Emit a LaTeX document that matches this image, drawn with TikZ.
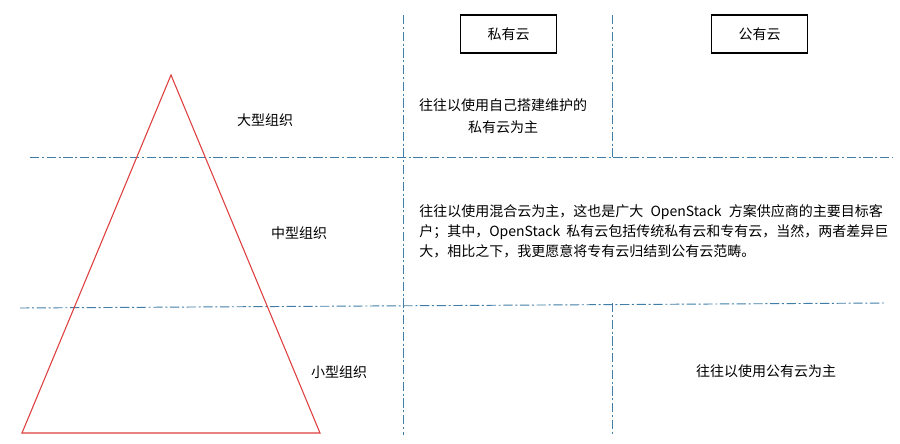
\documentclass[tikz,border=0pt]{standalone}
\usepackage{fontspec}
\usepackage{xcolor}
\usepackage{tikz}
\usetikzlibrary{positioning}
\newfontfamily\cjk{Noto Sans CJK SC}
\definecolor{fenge}{RGB}{64,126,168}
\definecolor{sanjiao}{RGB}{222,62,62}
\tikzset{
  fenxian/.style={draw=fenge, line width=0.7pt, dash pattern=on 7pt off 2pt on 1.5pt off 2pt},
  biaoti/.style={draw, line width=0.8pt, minimum width=72pt, minimum height=28.5pt, inner sep=0pt, font=\cjk\fontsize{10.5}{12}\selectfont},
  wenzi/.style={inner sep=0pt, font=\cjk\fontsize{10.5}{12}\selectfont},
  duanluo/.style={inner sep=0pt, align=#1, font=\cjk\fontsize{10.5}{15}\selectfont},
  duanluo/.default=left,
}

\begin{document}
\begin{tikzpicture}[x=0.75pt, y=-0.75pt]
  \useasboundingbox (0,0) rectangle (900,443);

  % 分隔线
  \draw[fenxian] (30,157) -- (893,157);
  \draw[fenxian] (20,308) -- (886,303);
  \draw[fenxian] (403,15) -- (403,435);
  \draw[fenxian] (612,15) -- (612,157);
  \draw[fenxian] (612,303) -- (612,435);

  % 金字塔
  \draw[sanjiao, line width=0.8pt] (171,75) -- (320,433) -- (22,433) -- cycle;

  % 组织规模
  \node[wenzi] (dax) at (265,120) {大型组织};
  \node[wenzi] (zhong) at (299,233) {中型组织};
  \node[wenzi] (xiao) at (339,372) {小型组织};

  % 云类型
  \node[biaoti] (siyou) at (508.5,34) {私有云};
  \node[biaoti] (gongyou) at (759.5,34) {公有云};

  % 各格说明
  \node[duanluo=center, font=\cjk\fontsize{10.5}{16.5}\selectfont] (dasm) at (503,116)
    {往往以使用自己搭建维护的\\私有云为主};
  \node[duanluo, anchor=west] (zhongsm) at (419,231)
    {往往以使用混合云为主，这也是广大\hspace{5.5pt}OpenStack\hspace{5.5pt}方案供应商的主要目标客\\
     户；其中，OpenStack\hspace{4.5pt}私有云包括传统私有云和专有云，当然，两者差异巨\\
     大，相比之下，我更愿意将专有云归结到公有云范畴。};
  \node[wenzi] (xiaosm) at (766,371) {往往以使用公有云为主};
\end{tikzpicture}
\end{document}
